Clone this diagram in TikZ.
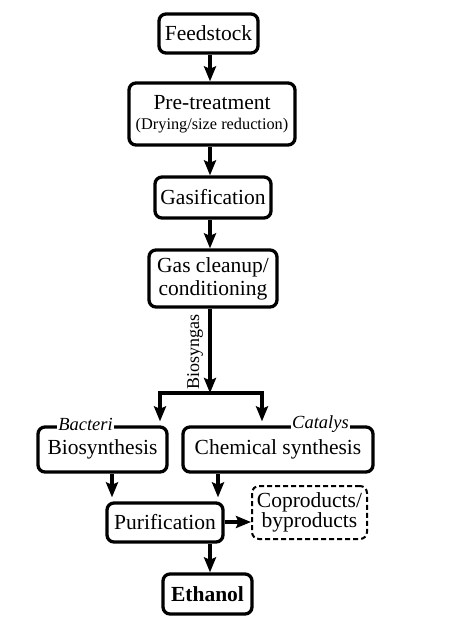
\documentclass[tikz,border=0pt]{standalone}
\usepackage{fontspec}
\setmainfont{Liberation Serif}
\usetikzlibrary{arrows.meta,calc}
\begin{document}
\begin{tikzpicture}[x=1pt,y=-1pt,
  box/.style={draw=black,line width=3.3pt,rounded corners=7pt,inner sep=0pt,align=center,
    font=\fontsize{21.5}{23}\selectfont},
  dbox/.style={box,dashed,line width=2pt,dash pattern=on 5pt off 3pt,font=\fontsize{21.5}{19}\selectfont},
  arr/.style={line width=3.2pt,-{Stealth[length=15pt,width=12pt,inset=2.5pt]}},
  lbl/.style={fill=white,inner sep=1.5pt,font=\fontsize{18.5}{20}\selectfont\itshape}]
\useasboundingbox[fill=white] (0,0) rectangle (474,624);
\node[box,minimum width=99pt,minimum height=39pt] (feed) at (208.5,33.5) {Feedstock};
\node[box,minimum width=166pt,minimum height=62pt] (pre) at (212,114)
  {Pre-treatment\\[-3pt]{\fontsize{16.3}{17}\selectfont(Drying/size reduction)}};
\node[box,minimum width=116pt,minimum height=41pt] (gas) at (213,197.5) {Gasification};
\node[box,minimum width=128pt,minimum height=57pt] (clean) at (213,278.5) {Gas cleanup/\\conditioning};
\node[box,minimum width=129pt,minimum height=45pt] (bio) at (102.5,449.5) {Biosynthesis};
\node[box,minimum width=190pt,minimum height=45pt] (chem) at (278,449.5) {Chemical synthesis};
\node[box,minimum width=116pt,minimum height=39pt] (pur) at (165,522.5) {Purification};
\node[dbox,minimum width=115pt,minimum height=53pt] (cop) at (309.5,512.5) {Coproducts/\\byproducts};
\node[box,minimum width=89pt,minimum height=40pt,font=\fontsize{21.5}{23}\selectfont\bfseries] (eth) at (207.5,594) {Ethanol};
\node[lbl] (bac) at (85.5,424) {Bacteri\hspace{6pt}};
\node[lbl] (cat) at (320.5,424) {Catalys\hspace{6pt}};
\coordinate (br) at (210,393);
\coordinate (bl) at (160,393);
\coordinate (bR) at (262,393);
\draw[arr] (210,0 |- feed.south) -- (210,0 |- pre.north);
\draw[arr] (210,0 |- pre.south) -- (210,0 |- gas.north);
\draw[arr] (210,0 |- gas.south) -- (210,0 |- clean.north);
\draw[arr] (210,0 |- clean.south) -- (br);
\node[rotate=90,font=\fontsize{18}{19}\selectfont,inner sep=0pt] (syn) at (195,352) {Biosyngas};
\draw[line width=3.2pt] ([xshift=-1.6pt]bl) -- ([xshift=1.6pt]bR);
\draw[arr,shorten >=4pt] (bl) -- (160,0 |- bio.north);
\draw[arr,shorten >=4pt] (bR) -- (262,0 |- chem.north);
\draw[arr,shorten >=4pt] (112,0 |- bio.south) -- (112,0 |- pur.north);
\draw[arr,shorten >=4pt] (218,0 |- chem.south) -- (218,0 |- pur.north);
\draw[arr] (210,0 |- pur.south) -- (210,0 |- eth.north);
\draw[arr] (pur.east |- 0,522) -- (cop.west |- 0,522);
\end{tikzpicture}
\end{document}
